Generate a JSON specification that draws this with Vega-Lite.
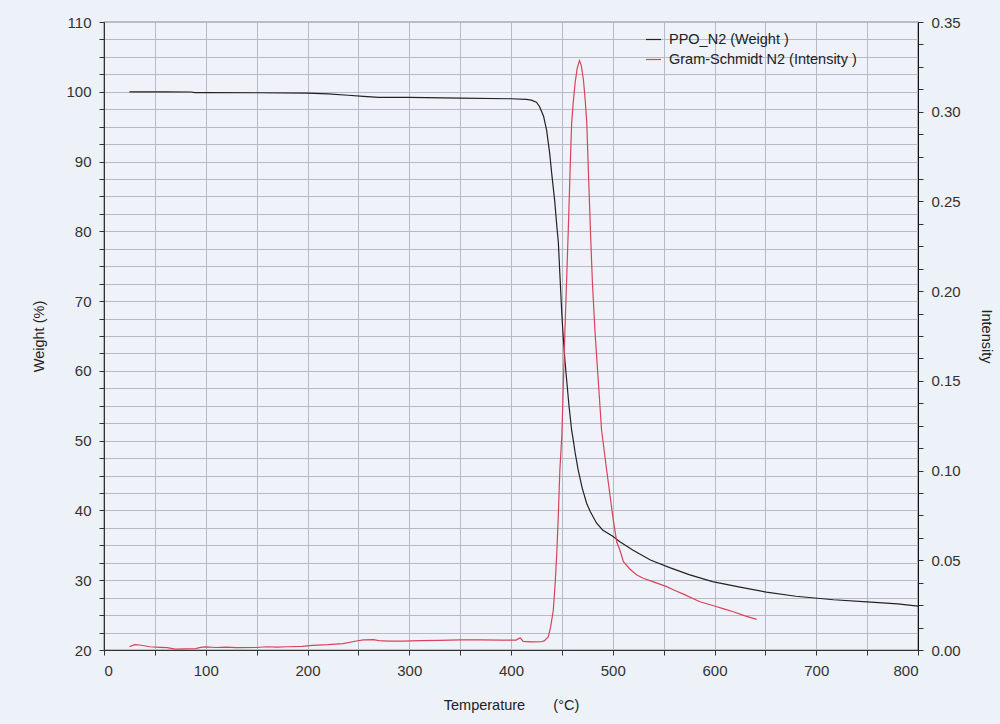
{
  "$schema": "https://vega.github.io/schema/vega-lite/v6.json",
  "width": 814,
  "height": 628,
  "autosize": {"type": "none"},
  "padding": {"left": 104, "top": 22, "right": 82, "bottom": 74},
  "background": "#edf1f8",
  "config": {
    "font": "Liberation Sans",
    "view": {"stroke": "#222", "strokeWidth": 1.2, "fill": "#eff3f9"},
    "axis": {
      "labelFont": "Liberation Sans",
      "titleFont": "Liberation Sans",
      "labelFontSize": 15,
      "titleFontSize": 14.5,
      "titleFontWeight": "normal",
      "labelColor": "#333",
      "titleColor": "#222",
      "tickColor": "#333",
      "domainColor": "#333",
      "gridColor": "#b6bac4",
      "gridWidth": 1,
      "tickSize": 5
    }
  },
  "datasets": {
    "weight": [
      {"T": 25, "w": 100.0}, {"T": 40, "w": 100.0}, {"T": 60, "w": 100.0}, {"T": 86, "w": 99.97},
      {"T": 89, "w": 99.88}, {"T": 100, "w": 99.87}, {"T": 150, "w": 99.86}, {"T": 200, "w": 99.8},
      {"T": 220, "w": 99.7}, {"T": 240, "w": 99.5}, {"T": 255, "w": 99.35}, {"T": 270, "w": 99.2},
      {"T": 300, "w": 99.2}, {"T": 350, "w": 99.1}, {"T": 400, "w": 99.0}, {"T": 415, "w": 98.9},
      {"T": 420, "w": 98.8}, {"T": 425, "w": 98.5}, {"T": 428, "w": 97.9}, {"T": 432, "w": 96.5},
      {"T": 435, "w": 94.5}, {"T": 438, "w": 91.2}, {"T": 440, "w": 88.3}, {"T": 443, "w": 84.3},
      {"T": 445, "w": 80.8}, {"T": 446.5, "w": 78.5}, {"T": 448, "w": 74.0}, {"T": 450, "w": 68.0},
      {"T": 451.5, "w": 64.5}, {"T": 453, "w": 61.5}, {"T": 454.7, "w": 58.7}, {"T": 457, "w": 55.0},
      {"T": 459.6, "w": 51.5}, {"T": 461.3, "w": 50.0}, {"T": 463, "w": 48.3}, {"T": 466, "w": 45.8},
      {"T": 470, "w": 43.2}, {"T": 474.4, "w": 41.0}, {"T": 478, "w": 39.8}, {"T": 484, "w": 38.2},
      {"T": 490, "w": 37.2}, {"T": 500, "w": 36.3}, {"T": 507, "w": 35.5}, {"T": 520, "w": 34.3},
      {"T": 537, "w": 32.9}, {"T": 556, "w": 31.8}, {"T": 575, "w": 30.8}, {"T": 598, "w": 29.8},
      {"T": 625, "w": 29.0}, {"T": 651, "w": 28.3}, {"T": 680, "w": 27.7}, {"T": 717, "w": 27.2},
      {"T": 750, "w": 26.9}, {"T": 780, "w": 26.6}, {"T": 800, "w": 26.3}
    ],
    "intensity": [
      {"T": 25, "I": 0.0018}, {"T": 30, "I": 0.0030}, {"T": 35, "I": 0.0028}, {"T": 45, "I": 0.0018},
      {"T": 55, "I": 0.0015}, {"T": 62, "I": 0.0013}, {"T": 70, "I": 0.0005}, {"T": 80, "I": 0.0006},
      {"T": 90, "I": 0.0008}, {"T": 95, "I": 0.0015}, {"T": 100, "I": 0.0017}, {"T": 110, "I": 0.0014},
      {"T": 120, "I": 0.0016}, {"T": 130, "I": 0.0013}, {"T": 150, "I": 0.0014}, {"T": 160, "I": 0.0018},
      {"T": 170, "I": 0.0016}, {"T": 180, "I": 0.0018}, {"T": 195, "I": 0.0020}, {"T": 205, "I": 0.0026},
      {"T": 220, "I": 0.0030}, {"T": 235, "I": 0.0036}, {"T": 248, "I": 0.0050}, {"T": 255, "I": 0.0056},
      {"T": 265, "I": 0.0058}, {"T": 270, "I": 0.0052}, {"T": 280, "I": 0.0050}, {"T": 295, "I": 0.0050},
      {"T": 310, "I": 0.0052}, {"T": 330, "I": 0.0054}, {"T": 350, "I": 0.0056}, {"T": 370, "I": 0.0056},
      {"T": 390, "I": 0.0055}, {"T": 405, "I": 0.0055}, {"T": 409, "I": 0.0068}, {"T": 412, "I": 0.0048},
      {"T": 420, "I": 0.0045}, {"T": 430, "I": 0.0046}, {"T": 433, "I": 0.0052}, {"T": 436.7, "I": 0.0074},
      {"T": 439, "I": 0.013}, {"T": 441.6, "I": 0.0223}, {"T": 443.5, "I": 0.038}, {"T": 445, "I": 0.054},
      {"T": 446.5, "I": 0.075}, {"T": 448, "I": 0.100}, {"T": 450, "I": 0.120}, {"T": 453, "I": 0.178},
      {"T": 456.3, "I": 0.234}, {"T": 458.5, "I": 0.275}, {"T": 459.6, "I": 0.2935}, {"T": 461, "I": 0.304},
      {"T": 463, "I": 0.316}, {"T": 465, "I": 0.324}, {"T": 467.3, "I": 0.3285}, {"T": 469, "I": 0.326},
      {"T": 471.2, "I": 0.3177}, {"T": 473, "I": 0.306}, {"T": 474.5, "I": 0.2935}, {"T": 476, "I": 0.268},
      {"T": 478.4, "I": 0.2285}, {"T": 480, "I": 0.205}, {"T": 482.5, "I": 0.178}, {"T": 486, "I": 0.148},
      {"T": 489, "I": 0.1226}, {"T": 494, "I": 0.1003}, {"T": 500.5, "I": 0.0725}, {"T": 504, "I": 0.0600},
      {"T": 507, "I": 0.0557}, {"T": 510.5, "I": 0.0492}, {"T": 517, "I": 0.0450}, {"T": 523.6, "I": 0.0418},
      {"T": 530, "I": 0.0400}, {"T": 540, "I": 0.0380}, {"T": 553, "I": 0.0353}, {"T": 560, "I": 0.0334},
      {"T": 570, "I": 0.0310}, {"T": 585.7, "I": 0.0269}, {"T": 600, "I": 0.0245}, {"T": 610, "I": 0.0228},
      {"T": 618.5, "I": 0.0213}, {"T": 630, "I": 0.0190}, {"T": 641.4, "I": 0.0171}
    ]
  },
  "layer": [
    {
      "data": {"name": "weight"},
      "mark": {"type": "line", "strokeWidth": 1.2, "clip": true},
      "encoding": {
        "x": {
          "field": "T", "type": "quantitative",
          "scale": {"domain": [0, 800], "nice": false, "zero": false},
          "axis": {
            "title": "Temperature\u00a0\u00a0\u00a0\u00a0\u00a0\u00a0\u00a0(°C)",
            "titlePadding": 20,
            "values": [0,25,50,75,100,125,150,175,200,225,250,275,300,325,350,375,400,425,450,475,500,525,550,575,600,625,650,675,700,725,750,775,800],
            "labelExpr": "datum.value % 100 == 0 ? datum.label : ''",
            "labelPadding": 8,
            "grid": true
          }
        },
        "y": {
          "field": "w", "type": "quantitative",
          "scale": {"domain": [20, 110], "nice": false, "zero": false},
          "axis": {
            "title": "Weight (%)",
            "orient": "left",
            "titlePadding": 19,
            "values": [20,22.5,25,27.5,30,32.5,35,37.5,40,42.5,45,47.5,50,52.5,55,57.5,60,62.5,65,67.5,70,72.5,75,77.5,80,82.5,85,87.5,90,92.5,95,97.5,100,102.5,105,107.5,110],
            "labelExpr": "datum.value % 10 == 0 ? datum.label : ''",
            "labelPadding": 8,
            "grid": true
          }
        },
        "color": {
          "datum": "PPO_N2 (Weight )",
          "type": "nominal",
          "scale": {"domain": ["PPO_N2 (Weight )", "Gram-Schmidt N2 (Intensity )"], "range": ["#222222", "#d8435a"]},
          "legend": {
            "orient": "none",
            "legendX": 541,
            "legendY": 9,
            "title": null,
            "symbolType": "stroke",
            "symbolSize": 225,
            "symbolStrokeWidth": 1.2,
            "labelFontSize": 14.5,
            "labelFont": "Liberation Sans",
            "labelColor": "#222",
            "labelLimit": 400,
            "rowPadding": 5,
            "labelOffset": 7
          }
        }
      }
    },
    {
      "data": {"name": "intensity"},
      "mark": {"type": "line", "strokeWidth": 1.2, "clip": true},
      "encoding": {
        "x": {"field": "T", "type": "quantitative"},
        "y": {
          "field": "I", "type": "quantitative",
          "scale": {"domain": [0, 0.35], "nice": false},
          "axis": {
            "title": "Intensity",
            "orient": "right",
            "titleAngle": 90,
            "titlePadding": 18,
            "values": [0,0.0125,0.025,0.0375,0.05,0.0625,0.075,0.0875,0.1,0.1125,0.125,0.1375,0.15,0.1625,0.175,0.1875,0.2,0.2125,0.225,0.2375,0.25,0.2625,0.275,0.2875,0.3,0.3125,0.325,0.3375,0.35],
            "labelExpr": "abs(datum.value*20 - round(datum.value*20)) < 0.000001 ? format(datum.value, '.2f') : ''",
            "labelPadding": 8,
            "domainColor": "#111",
            "grid": false
          }
        },
        "color": {"datum": "Gram-Schmidt N2 (Intensity )", "type": "nominal"}
      }
    }
  ],
  "resolve": {"scale": {"y": "independent"}}
}
